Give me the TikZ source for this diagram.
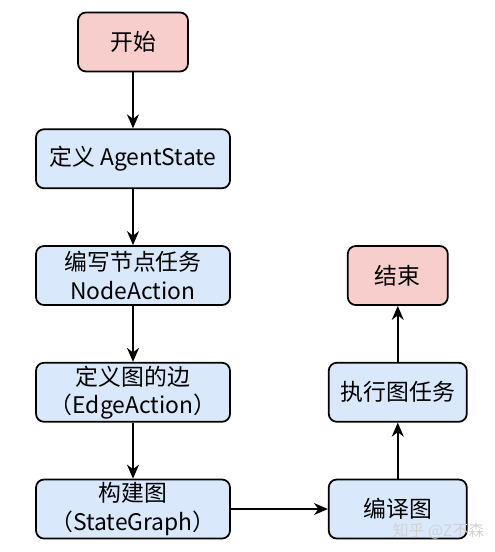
\documentclass[tikz,border=0pt]{standalone}
\usepackage{fontspec}
\setmainfont{Noto Sans CJK SC}
\usetikzlibrary{arrows.meta,positioning}
\definecolor{endred}{HTML}{F8CECC}
\definecolor{stepblue}{HTML}{DAE8FC}

\begin{document}
\begin{tikzpicture}[
  node distance=1.12cm,
  box/.style={draw, line width=1pt, fill=stepblue, rounded corners=1.6mm,
              minimum width=3.88cm, minimum height=1.18cm, align=center,
              inner sep=1pt, font=\fontsize{13}{16}\selectfont},
  endbox/.style={box, fill=endred, minimum width=2.2cm},
  arr/.style={draw, line width=1pt, -{Stealth[length=2.8mm, width=2.4mm]}}
]
\useasboundingbox (0,0) rectangle (9.88,-11.04);

\node[endbox] (start) at (2.66,-0.84) {开始};
\node[box, below=of start] (state) {定义 AgentState};
\node[box, below=of state] (nodes) {编写节点任务\\NodeAction};
\node[box, below=of nodes] (edges) {定义图的边\\（EdgeAction）};
\node[box, below=of edges] (build) {构建图\\（StateGraph）};
\node[box, minimum width=2.76cm, right=1.94cm of build] (compile) {编译图};
\node[box, minimum width=2.76cm, above=of compile] (run) {执行图任务};
\node[endbox, minimum width=2cm, above=of run] (stop) {结束};

\draw[arr] (start) -- (state);
\draw[arr] (state) -- (nodes);
\draw[arr] (nodes) -- (edges);
\draw[arr] (edges) -- (build);
\draw[arr] (build) -- (compile);
\draw[arr] (compile) -- (run);
\draw[arr] (run) -- (stop);

% watermark
\node[text=gray!35, font=\fontsize{9}{11}\selectfont] (mark) at (8.77,-10.62) {知乎 @Z不森};
\end{tikzpicture}
\end{document}
